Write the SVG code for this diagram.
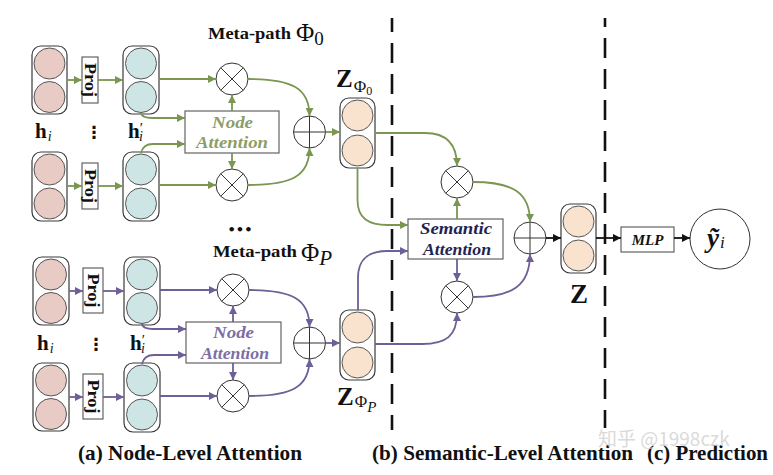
<svg xmlns="http://www.w3.org/2000/svg" width="773" height="475" viewBox="0 0 773 475">
<defs>
<style>
.pill{fill:#fff;stroke:#3a3a3a;stroke-width:1.2}
.pk{fill:#e8cbc4;stroke:#555;stroke-width:1}
.bl{fill:#cde5e4;stroke:#555;stroke-width:1}
.pc{fill:#f9e3cf;stroke:#555;stroke-width:1}
.box{fill:#fff;stroke:#555;stroke-width:1.1}
.op{fill:#fff;stroke:#333;stroke-width:1}
.opl{stroke:#333;stroke-width:1;fill:none}
.g{fill:none;stroke:#7a9650;stroke-width:1.8}
.p{fill:none;stroke:#6e5f96;stroke-width:1.8}
.k{fill:none;stroke:#111;stroke-width:1.8}
.ser{font-family:"Liberation Serif","Times New Roman",serif;font-weight:bold;fill:#111}
.bi{font-family:"Liberation Serif","Times New Roman",serif;font-weight:bold;font-style:italic}
.it{font-family:"Liberation Serif","Times New Roman",serif;font-style:italic;font-weight:normal;fill:#111}
.rm{font-family:"Liberation Serif","Times New Roman",serif;font-weight:normal;fill:#111}
.dash{stroke:#111;stroke-width:2.6;stroke-dasharray:20 11;fill:none}
.vd{font-family:"DejaVu Sans",sans-serif;font-weight:bold;fill:#111}
</style>
<marker id="ag" viewBox="0 0 10 10" refX="10" refY="5" markerWidth="9" markerHeight="8" markerUnits="userSpaceOnUse" orient="auto"><path d="M0,0L10,5L0,10z" fill="#7a9650"/></marker>
<marker id="ap" viewBox="0 0 10 10" refX="10" refY="5" markerWidth="9" markerHeight="8" markerUnits="userSpaceOnUse" orient="auto"><path d="M0,0L10,5L0,10z" fill="#6e5f96"/></marker>
<marker id="ak" viewBox="0 0 10 10" refX="10" refY="5" markerWidth="9" markerHeight="8" markerUnits="userSpaceOnUse" orient="auto"><path d="M0,0L10,5L0,10z" fill="#111"/></marker>
</defs>
<rect width="773" height="475" fill="#fff"/>

<g id="separators">
<line class="dash" x1="392" y1="18" x2="392" y2="430" stroke-dashoffset="6"/>
<line class="dash" x1="605" y1="18" x2="605" y2="428" stroke-dashoffset="11"/>
</g>

<!-- ===== Meta-path Phi0 (green) ===== -->
<g id="hi_top0"><rect class="pill" x="32" y="46" width="35" height="68" rx="9"/><circle class="pk" cx="49.5" cy="63.5" r="15.5"/><circle class="pk" cx="49.5" cy="97" r="15.5"/></g>
<g id="hi_bot0"><rect class="pill" x="32" y="152" width="35" height="69" rx="9"/><circle class="pk" cx="49.5" cy="169.5" r="15.5"/><circle class="pk" cx="49.5" cy="203.5" r="15.5"/></g>
<g id="proj_top0"><rect class="box" x="82" y="57" width="16" height="46"/><text class="ser" font-size="16" text-anchor="middle" textLength="34" lengthAdjust="spacingAndGlyphs" transform="translate(85,80) rotate(90)">Proj</text></g>
<g id="proj_bot0"><rect class="box" x="82" y="163" width="16" height="46"/><text class="ser" font-size="16" text-anchor="middle" textLength="34" lengthAdjust="spacingAndGlyphs" transform="translate(85,186) rotate(90)">Proj</text></g>
<g id="hp_top0"><rect class="pill" x="123" y="46" width="36" height="68" rx="9"/><circle class="bl" cx="141" cy="63.5" r="15.5"/><circle class="bl" cx="141" cy="97" r="15.5"/></g>
<g id="hp_bot0"><rect class="pill" x="123" y="152" width="36" height="69" rx="9"/><circle class="bl" cx="141" cy="169.5" r="15.5"/><circle class="bl" cx="141" cy="203.5" r="15.5"/></g>
<g id="mul_top0"><circle class="op" cx="232" cy="79" r="16"/><path class="opl" d="M220.7,67.7L243.3,90.3M243.3,67.7L220.7,90.3"/></g>
<g id="mul_bot0"><circle class="op" cx="232" cy="185" r="16"/><path class="opl" d="M220.7,173.7L243.3,196.3M243.3,173.7L220.7,196.3"/></g>
<g id="na0"><rect class="box" x="185" y="111" width="94" height="42"/>
<text class="bi" fill="#8b9d68" font-size="16.5" x="232.5" y="128" text-anchor="middle" textLength="41" lengthAdjust="spacingAndGlyphs">Node</text>
<text class="bi" fill="#8b9d68" font-size="16.5" x="232" y="148" text-anchor="middle" textLength="72" lengthAdjust="spacingAndGlyphs">Attention</text></g>
<g id="plus0"><circle class="op" cx="309.5" cy="132" r="16"/><path class="opl" d="M293.5,132H325.5M309.5,116V148"/></g>
<g id="z0"><rect class="pill" x="340" y="98" width="35" height="70" rx="9"/><circle class="pc" cx="357.5" cy="115.5" r="15.5"/><circle class="pc" cx="357.5" cy="150.5" r="15.5"/></g>

<!-- ===== Meta-path PhiP (purple) ===== -->
<g id="hi_topP"><rect class="pill" x="33" y="257" width="36" height="68" rx="9"/><circle class="pk" cx="51" cy="274.5" r="15.5"/><circle class="pk" cx="51" cy="308" r="15.5"/></g>
<g id="hi_botP"><rect class="pill" x="33" y="363" width="36" height="68" rx="9"/><circle class="pk" cx="51" cy="380.5" r="15.5"/><circle class="pk" cx="51" cy="414" r="15.5"/></g>
<g id="proj_topP"><rect class="box" x="83" y="268" width="20" height="45"/><text class="ser" font-size="16" text-anchor="middle" textLength="34" lengthAdjust="spacingAndGlyphs" transform="translate(88,290.5) rotate(90)">Proj</text></g>
<g id="proj_botP"><rect class="box" x="83" y="374" width="20" height="45"/><text class="ser" font-size="16" text-anchor="middle" textLength="34" lengthAdjust="spacingAndGlyphs" transform="translate(88,396.5) rotate(90)">Proj</text></g>
<g id="hp_topP"><rect class="pill" x="124" y="257" width="36" height="68" rx="9"/><circle class="bl" cx="142" cy="274.5" r="15.5"/><circle class="bl" cx="142" cy="308" r="15.5"/></g>
<g id="hp_botP"><rect class="pill" x="124" y="363" width="36" height="69" rx="9"/><circle class="bl" cx="142" cy="380.5" r="15.5"/><circle class="bl" cx="142" cy="414.5" r="15.5"/></g>
<g id="mul_topP"><circle class="op" cx="233" cy="290" r="16"/><path class="opl" d="M221.7,278.7L244.3,301.3M244.3,278.7L221.7,301.3"/></g>
<g id="mul_botP"><circle class="op" cx="233" cy="396" r="16"/><path class="opl" d="M221.7,384.7L244.3,407.3M244.3,384.7L221.7,407.3"/></g>
<g id="naP"><rect class="box" x="186" y="322" width="95" height="41"/>
<text class="bi" fill="#7b6ea5" font-size="16.5" x="233.5" y="338" text-anchor="middle" textLength="41" lengthAdjust="spacingAndGlyphs">Node</text>
<text class="bi" fill="#7b6ea5" font-size="16.5" x="235" y="359" text-anchor="middle" textLength="68" lengthAdjust="spacingAndGlyphs">Attention</text></g>
<g id="plusP"><circle class="op" cx="309.5" cy="343" r="16"/><path class="opl" d="M293.5,343H325.5M309.5,327V359"/></g>
<g id="zP"><rect class="pill" x="340" y="310" width="35" height="70" rx="9"/><circle class="pc" cx="357.5" cy="327.5" r="15.5"/><circle class="pc" cx="357.5" cy="362.5" r="15.5"/></g>

<!-- ===== Semantic level ===== -->
<g id="mul_s1"><circle class="op" cx="457" cy="182" r="16"/><path class="opl" d="M445.7,170.7L468.3,193.3M468.3,170.7L445.7,193.3"/></g>
<g id="mul_s2"><circle class="op" cx="457" cy="297" r="16"/><path class="opl" d="M445.7,285.7L468.3,308.3M468.3,285.7L445.7,308.3"/></g>
<g id="sa"><rect class="box" x="408" y="219" width="95" height="40"/>
<text class="bi" fill="#1f2350" font-size="17" x="456" y="234" text-anchor="middle" textLength="72" lengthAdjust="spacingAndGlyphs">Semantic</text>
<text class="bi" fill="#1f2350" font-size="17" x="457" y="255" text-anchor="middle" textLength="68" lengthAdjust="spacingAndGlyphs">Attention</text></g>
<g id="plus_s"><circle class="op" cx="530" cy="238" r="16"/><path class="opl" d="M514,238H546M530,222V254"/></g>
<g id="z"><rect class="pill" x="561" y="204" width="35" height="69" rx="9"/><circle class="pc" cx="578.5" cy="221.5" r="15.5"/><circle class="pc" cx="578.5" cy="255.5" r="15.5"/></g>
<g id="mlp"><rect class="box" x="621" y="227" width="53" height="25"/><text class="bi" fill="#111" font-size="15" x="647.5" y="245" text-anchor="middle">MLP</text></g>
<g id="yi"><circle class="op" cx="720" cy="239" r="30"/><text class="bi" fill="#111" font-size="27" x="707" y="247">ỹ<tspan class="it" font-size="17" dx="1" dy="1">i</tspan></text></g>

<!-- ===== connectors ===== -->
<g id="connectors">
<path class="g" marker-end="url(#ag)" d="M67,80H82"/>
<path class="g" marker-end="url(#ag)" d="M98,80H123"/>
<path class="g" marker-end="url(#ag)" d="M67,186H82"/>
<path class="g" marker-end="url(#ag)" d="M98,186H123"/>
<path class="g" marker-end="url(#ag)" d="M159,79H216"/>
<path class="g" marker-end="url(#ag)" d="M159,185H216"/>
<path class="g" marker-end="url(#ag)" d="M141,113Q142,118 152,118H185"/>
<path class="g" marker-end="url(#ag)" d="M141,153Q143,144 153,144H185"/>
<path class="g" marker-end="url(#ag)" d="M232,111V95"/>
<path class="g" marker-end="url(#ag)" d="M232,153V169"/>
<path class="g" marker-end="url(#ag)" d="M248,79C292,79 309.5,88 309.5,116"/>
<path class="g" marker-end="url(#ag)" d="M248,185C292,185 309.5,176 309.5,148"/>
<path class="g" marker-end="url(#ag)" d="M325.5,132H340"/>
<path class="g" marker-end="url(#ag)" d="M375,133H425C446,133 457,144 457,166"/>
<path class="g" marker-end="url(#ag)" d="M357.5,168V200C357.5,218 368,225 388,225H408"/>
<path class="g" marker-end="url(#ag)" d="M457,219V198"/>
<path class="g" marker-end="url(#ag)" d="M473,182C512,182 530,192 530,222"/>
<path class="p" marker-end="url(#ap)" d="M69,291H83"/>
<path class="p" marker-end="url(#ap)" d="M103,291H124"/>
<path class="p" marker-end="url(#ap)" d="M69,397H83"/>
<path class="p" marker-end="url(#ap)" d="M103,397H124"/>
<path class="p" marker-end="url(#ap)" d="M160,290H217"/>
<path class="p" marker-end="url(#ap)" d="M160,396H217"/>
<path class="p" marker-end="url(#ap)" d="M142,324Q143,329 153,329H186"/>
<path class="p" marker-end="url(#ap)" d="M142,364Q144,355 154,355H186"/>
<path class="p" marker-end="url(#ap)" d="M233,322V306"/>
<path class="p" marker-end="url(#ap)" d="M233,363V380"/>
<path class="p" marker-end="url(#ap)" d="M249,290C292,290 309.5,299 309.5,327"/>
<path class="p" marker-end="url(#ap)" d="M249,396C292,396 309.5,387 309.5,359"/>
<path class="p" marker-end="url(#ap)" d="M325.5,343H340"/>
<path class="p" marker-end="url(#ap)" d="M358,310V278C358,259 368,251 388,251H408"/>
<path class="p" marker-end="url(#ap)" d="M375,344H422C446,344 457,336 457,313"/>
<path class="p" marker-end="url(#ap)" d="M457,259V281"/>
<path class="p" marker-end="url(#ap)" d="M473,297C512,297 530,286 530,254"/>
<path class="k" marker-end="url(#ak)" d="M546,238H561"/>
<path class="k" marker-end="url(#ak)" d="M596,238H621"/>
<path class="k" marker-end="url(#ak)" d="M674,238H690"/>
</g>

<!-- ===== labels ===== -->
<g id="labels">
<text class="ser" font-size="17" x="208" y="39" textLength="83" lengthAdjust="spacingAndGlyphs">Meta-path</text>
<text class="rm" font-size="25" x="296" y="41">Φ<tspan font-size="19" dy="4">0</tspan></text>
<text class="ser" font-size="17" x="213" y="257" textLength="84" lengthAdjust="spacingAndGlyphs">Meta-path</text>
<text class="rm" font-size="25" x="301" y="261">Φ<tspan class="it" font-size="21" dy="4">P</tspan></text>

<text class="ser" font-size="21" x="35" y="138">h<tspan class="it" font-size="14" dx="1" dy="3">i</tspan></text>
<text class="ser" font-size="21" x="128" y="138">h<tspan class="rm" font-size="15" dy="-5">′</tspan><tspan class="it" font-size="14" dx="-4" dy="8">i</tspan></text>
<text class="vd" font-size="17" x="94" y="138" text-anchor="middle">⋮</text>

<text class="ser" font-size="21" x="37" y="350">h<tspan class="it" font-size="14" dx="1" dy="3">i</tspan></text>
<text class="ser" font-size="21" x="130" y="350">h<tspan class="rm" font-size="15" dy="-5">′</tspan><tspan class="it" font-size="14" dx="-4" dy="8">i</tspan></text>
<text class="vd" font-size="17" x="96" y="350" text-anchor="middle">⋮</text>

<text class="vd" font-size="13" x="240" y="234" text-anchor="middle" textLength="25" lengthAdjust="spacingAndGlyphs">•••</text>

<text class="ser" font-size="25" x="336" y="87">Z<tspan class="rm" font-size="17" dx="1" dy="5">Φ</tspan><tspan class="rm" font-size="12" dy="3">0</tspan></text>
<text class="ser" font-size="25" x="337" y="405">Z<tspan class="rm" font-size="17" dx="1" dy="2">Φ</tspan><tspan class="it" font-size="15" dy="5">P</tspan></text>
<text class="ser" font-size="27" x="570" y="303">Z</text>

<text class="ser" font-size="22" x="78" y="460" textLength="224" lengthAdjust="spacingAndGlyphs">(a) Node-Level Attention</text>
<text class="ser" font-size="22" x="372" y="460" textLength="261" lengthAdjust="spacingAndGlyphs">(b) Semantic-Level Attention</text>
<text class="ser" font-size="22" x="647" y="460" textLength="121" lengthAdjust="spacingAndGlyphs">(c) Prediction</text>
<text font-family="Noto Sans CJK SC,sans-serif" font-size="19" x="598" y="446" fill="#d0d0d0" fill-opacity="0.8">知乎 @1998czk</text>
</g>
</svg>
